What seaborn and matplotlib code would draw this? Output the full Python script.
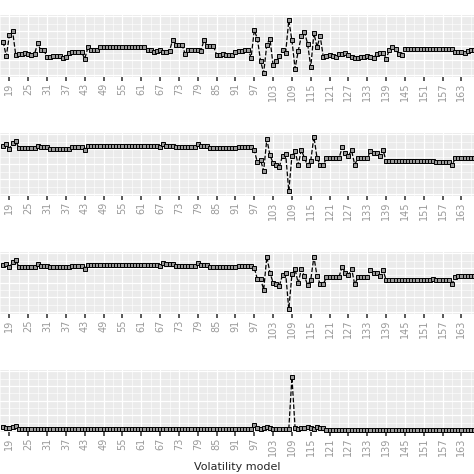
import numpy as np
import pandas as pd
import seaborn as sns
import matplotlib.pyplot as plt

models = list(range(17, 168))

# panel values (arbitrary units)
p1 = ([5.7, 3.2, 6.8, 7.5, 3.5, 3.6, 3.6, 3.7, 3.6, 3.5, 3.6, 5.4, 4.2, 4.2,
       3.1, 3.1, 3.2, 3.2, 3.3, 3.0, 3.1, 3.8, 3.9, 4.0, 4.0, 3.9, 2.8, 4.7,
       4.3, 4.3, 4.3] +
      [4.7] * 15 +
      [4.2, 4.2, 4.0, 4.1, 4.2, 4.0, 4.0, 4.1, 6.0, 5.1, 5.2, 5.1, 3.6, 4.2,
       4.3, 4.2, 4.3, 4.1, 6.0, 4.9, 5.0, 4.9, 3.5, 3.5, 3.6, 3.5, 3.4, 3.5,
       4.0, 4.1, 4.1, 4.2, 4.3] +
      [3.0, 7.6, 6.2, 2.4, 0.4, 5.2, 6.2, 1.7, 2.4, 3.2, 4.3, 3.8, 9.3, 5.9,
       1.1, 4.1, 6.6, 7.3, 5.3, 1.4, 7.1, 4.8, 6.6, 3.1, 3.3, 3.4, 3.2, 3.1,
       3.6, 3.6, 3.8, 3.4, 3.1, 3.0, 3.0, 3.1, 3.1, 3.2, 3.1, 2.9, 3.6, 3.7,
       3.8, 2.8, 4.2, 4.8, 4.4, 3.6, 3.5] +
      [4.4] * 16 +
      [3.9, 4.0, 3.9, 3.8, 4.1, 4.2, 4.3])
p2 = ([8.1, 8.3, 7.6, 8.6, 8.8, 7.7, 7.7, 7.7, 7.7, 7.7, 7.7, 8.1, 7.9, 7.9,
       7.9, 7.6, 7.6, 7.6, 7.6, 7.6, 7.6, 7.6, 7.8, 7.8, 7.8, 7.8, 7.4] +
      [8.0] * 23 +
      [7.8, 8.4, 8.1, 8.1, 8.1, 7.8, 7.8, 7.8, 7.8, 7.8, 7.8, 7.8, 8.4, 8.0,
       8.0, 8.0, 7.7, 7.7, 7.7, 7.7, 7.7, 7.7, 7.7, 7.7, 7.7, 7.9, 7.9, 7.9,
       7.9, 7.9] +
      [7.3, 5.3, 5.7, 3.9, 9.2, 6.5, 5.2, 4.8, 4.6, 6.4, 6.7, 0.5, 6.4, 7.2,
       4.9, 7.4, 6.0, 4.8, 5.6, 9.6, 6.0, 4.9, 4.9, 6.0, 6.0, 6.0, 6.0, 6.0,
       7.8, 6.8, 6.4, 7.3, 4.9, 6.0, 6.0, 6.0, 6.0, 7.2, 6.8, 6.9, 6.4, 7.4] +
      [5.5] * 15 +
      [5.6, 5.4, 5.4, 5.4, 5.4, 5.4, 4.8, 6.0, 6.0, 6.0, 6.1, 6.1, 6.1, 6.1])
p3 = ([8.0, 8.2, 7.6, 8.5, 8.8, 7.7, 7.7, 7.7, 7.7, 7.7, 7.7, 8.1, 7.9, 7.9,
       7.9, 7.6, 7.6, 7.6, 7.6, 7.6, 7.6, 7.6, 7.8, 7.8, 7.8, 7.8, 7.4] +
      [8.0] * 23 +
      [7.8, 8.4, 8.1, 8.1, 8.1, 7.8, 7.8, 7.8, 7.8, 7.8, 7.8, 7.8, 8.4, 8.0,
       8.0, 8.0, 7.7, 7.7, 7.7, 7.7, 7.7, 7.7, 7.7, 7.7, 7.7, 7.9, 7.9, 7.9,
       7.9, 7.9] +
      [7.5, 5.6, 5.7, 3.8, 9.4, 6.7, 5.0, 4.7, 4.5, 6.3, 6.6, 0.5, 6.4, 7.3,
       4.9, 7.3, 6.1, 4.6, 5.5, 9.4, 6.1, 4.8, 4.8, 5.9, 5.9, 5.9, 5.9, 6.0,
       7.7, 6.6, 6.3, 7.4, 4.7, 5.9, 5.9, 5.9, 6.0, 7.2, 6.6, 6.7, 6.1, 7.1] +
      [5.5] * 15 +
      [5.6, 5.4, 5.4, 5.4, 5.4, 5.4, 4.8, 6.0, 6.1, 6.1, 6.1, 6.1, 6.1, 6.1])
p4 = ([0.6, 0.3, 0.4, 0.5, 0.7, 0.2] + [0.2] * 74 +
      [0.9, 0.4, 0.2, 0.3, 0.5, 0.3, 0.2, 0.2, 0.2, 0.2, 0.2, 0.2, 9.0,
       0.4, 0.2, 0.3, 0.4, 0.6, 0.3, 0.2, 0.5, 0.4, 0.3] + [0.1] * 48)

tick_pos = list(range(19, 168, 6))

sns.set_theme(style="darkgrid", rc={"axes.facecolor": "#EBEBEB",
                                    "grid.color": "white"})
fig = plt.figure(figsize=(4.74, 4.74), dpi=100)
boxes = [(15, 77), (133, 196), (252, 314), (370, 432)]
for i, (vals, (top, bot)) in enumerate(zip([p1, p2, p3, p4], boxes)):
    ax = fig.add_axes([0, 1 - bot / 474, 1, (bot - top) / 474])
    df = pd.DataFrame({"model": models, "value": vals})
    sns.lineplot(data=df, x="model", y="value", ax=ax, color="black",
                 linestyle="--", lw=0.9, marker="s", markersize=3.2,
                 markerfacecolor="#9A9A9A", markeredgecolor="black",
                 markeredgewidth=0.7)
    ax.set_xlim(17.4, 167)
    ax.set_ylim(-0.3, 10.2)
    ax.set_xticks(tick_pos)
    ax.set_xticks(np.arange(16, 168, 3), minor=True)
    ax.set_xticklabels([str(t) for t in tick_pos], rotation=90,
                       fontsize=7, color="#999999")
    ax.set_yticks([0, 2.5, 5, 7.5, 10])
    ax.set_yticks([1.25, 3.75, 6.25, 8.75], minor=True)
    ax.set_yticklabels([])
    ax.grid(which="minor", color="white", lw=0.4)
    ax.grid(which="major", color="white", lw=0.9)
    ax.tick_params(axis="x", which="major", length=3, color="#444444",
                   bottom=True, pad=1)
    ax.tick_params(axis="y", length=0)
    for s in ax.spines.values():
        s.set_visible(False)
    ax.set_ylabel("")
    ax.set_xlabel("Volatility model" if i == 3 else "", fontsize=8,
                  labelpad=4)
fig.savefig("out.png", dpi=100)
